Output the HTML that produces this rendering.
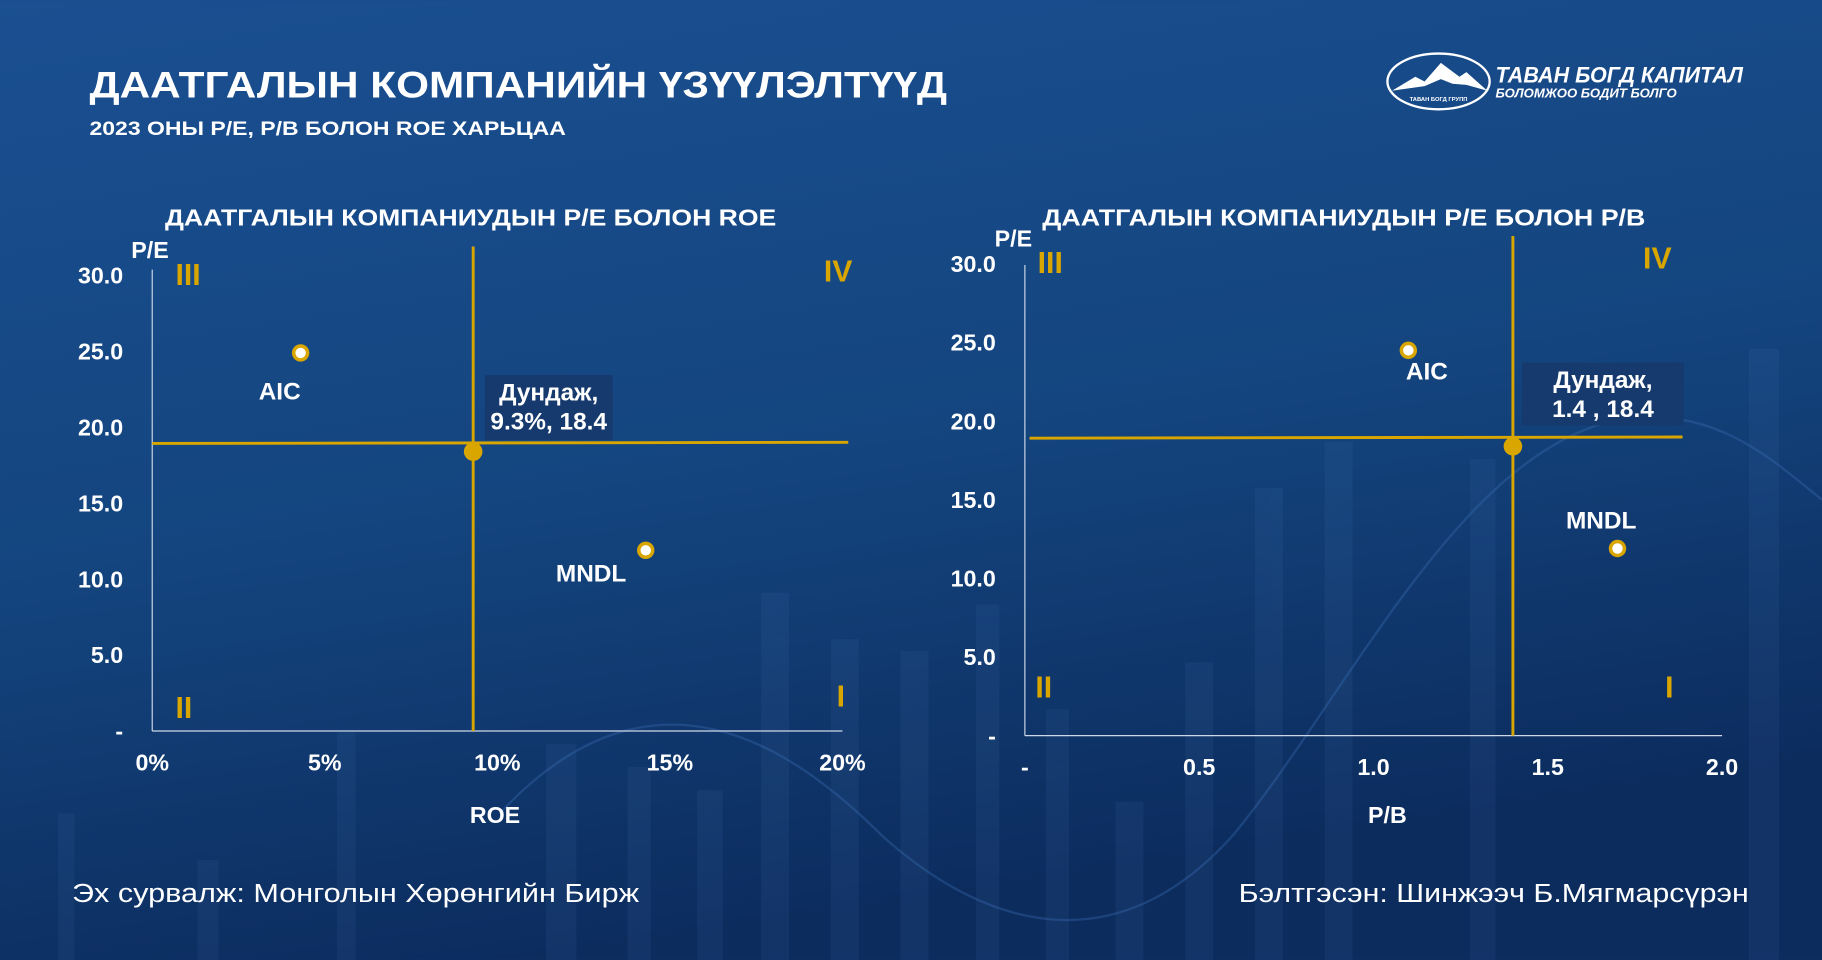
<!DOCTYPE html>
<html><head><meta charset="utf-8"><style>
html,body{margin:0;padding:0;width:1822px;height:960px;overflow:hidden;background:#123d78}
svg{display:block}
text{font-family:"Liberation Sans","DejaVu Sans",sans-serif;fill:#fff}
.b{font-weight:bold}
</style></head><body>
<svg id="s" width="1822" height="960" viewBox="0 0 1568 826" xmlns="http://www.w3.org/2000/svg">
<defs>
<linearGradient id="bg" x1="0" y1="0" x2="0.3" y2="1">
<stop offset="0" stop-color="#1a4f91"/><stop offset="0.55" stop-color="#14457f"/><stop offset="1" stop-color="#0c2c5e"/>
</linearGradient>
</defs>
<rect width="1568" height="826" fill="url(#bg)"/>
<g id="deco" opacity="0.07" fill="#6fa0e0"></g>
<path d="M430 700 C560 560 680 640 760 720 C850 800 960 830 1060 720 C1160 600 1260 380 1400 360 C1480 350 1530 400 1568 430" fill="none" stroke="#3c6fb4" stroke-width="2" opacity="0.35"/>

<text x="77" y="84" class="b" font-size="32" textLength="738" lengthAdjust="spacingAndGlyphs">ДААТГАЛЫН КОМПАНИЙН ҮЗҮҮЛЭЛТҮҮД</text>
<text x="77" y="116" class="b" font-size="17" textLength="410" lengthAdjust="spacingAndGlyphs">2023 ОНЫ P/E, P/B БОЛОН ROE ХАРЬЦАА</text>

<g>
<ellipse cx="1238" cy="70" rx="44" ry="24" fill="none" stroke="#fff" stroke-width="2"/>
<path d="M1198 78 L1218 66 L1226 70 L1240 54 L1256 66 L1262 62 L1280 78 L1262 73 L1250 72 L1240 68 L1226 74 Z" fill="#fff"/>
<text x="1238" y="87" font-size="5" text-anchor="middle" class="b">ТАВАН БОГД ГРУПП</text>
<text x="1287" y="71" class="b" font-size="19" font-style="italic" textLength="213" lengthAdjust="spacingAndGlyphs">ТАВАН БОГД КАПИТАЛ</text>
<text x="1287" y="84" class="b" font-size="11" font-style="italic" textLength="156" lengthAdjust="spacingAndGlyphs">БОЛОМЖОО БОДИТ БОЛГО</text>
</g>

<text x="142" y="194" class="b" font-size="20" textLength="526" lengthAdjust="spacingAndGlyphs">ДААТГАЛЫН КОМПАНИУДЫН P/E БОЛОН ROE</text>
<text x="897" y="194" class="b" font-size="20" textLength="519" lengthAdjust="spacingAndGlyphs">ДААТГАЛЫН КОМПАНИУДЫН P/E БОЛОН P/B</text>

<g id="left"></g>
<g id="right"></g>

<text x="62" y="776" font-size="22" textLength="488" lengthAdjust="spacingAndGlyphs">Эх сурвалж: Монголын Хөрөнгийн Бирж</text>
<text x="1066" y="776" font-size="22" textLength="439" lengthAdjust="spacingAndGlyphs">Бэлтгэсэн: Шинжээч Б.Мягмарсүрэн</text>
</svg>
<script>
const NS="http://www.w3.org/2000/svg";
const GOLD="#d9a600";
// Left chart data
const roeNames=["AIC","MNDL"];
const roeX=[4.3,14.3];
const roeY=[24.9,11.9];
const roeAvg=[9.3,18.4];
const roeXTicks=[0,5,10,15,20];
const roeXTickLabels=["0%","5%","10%","15%","20%"];
const peTicks=[0,5,10,15,20,25,30];
const peTickLabels=["-","5.0","10.0","15.0","20.0","25.0","30.0"];
// Right chart data
const pbNames=["AIC","MNDL"];
const pbX=[1.1,1.7];
const pbY=[24.5,11.9];
const pbAvg=[1.4,18.4];
const pbXTicks=[0,0.5,1,1.5,2];
const pbXTickLabels=["-","0.5","1.0","1.5","2.0"];
const avgLabelLeft=["Дундаж,","9.3%, 18.4"];
const avgLabelRight=["Дундаж,","1.4 ,  18.4"];

function el(p,tag,attrs,txt){const e=document.createElementNS(NS,tag);for(const k in attrs)e.setAttribute(k,attrs[k]);if(txt!==undefined)e.textContent=txt;p.appendChild(e);return e;}

const deco=document.getElementById('deco');
[[50,700,14,126],[170,740,18,86],[290,630,16,196],[470,640,26,186],[540,660,20,166],[600,680,22,146],[655,510,24,316],[715,550,24,276],[775,560,24,266],[840,520,20,306],[900,610,20,216],[960,690,24,136],[1020,570,24,256],[1080,420,24,406],[1140,380,24,446],[1265,395,22,431],[1505,300,26,526]].forEach(b=>{el(deco,'rect',{x:b[0],y:b[1],width:b[2],height:b[3]});});

function chart(g,o){
  const sx=v=>o.x0+(v-o.xmin)/(o.xmax-o.xmin)*(o.x1-o.x0);
  const sy=v=>o.y0-(v/30)*(o.y0-o.y1);
  let e;
  e=el(g,'line',{x1:o.x0,y1:o.y0,x2:o.x0,y2:o.axTop,stroke:"#cfd8e8","stroke-width":1});
  
  e=el(g,'line',{x1:o.x0,y1:o.y0,x2:o.x1,y2:o.y0,stroke:"#cfd8e8","stroke-width":1});
  
  peTicks.forEach((t,i)=>{const tx=el(g,'text',{x:o.ylx,y:sy(t)+7,"text-anchor":"end","font-size":20,class:"b"},peTickLabels[i]);
    });
  o.xt.forEach((t,i)=>{const tx=el(g,'text',{x:sx(t),y:o.xly,"text-anchor":"middle","font-size":20,class:"b"},o.xtl[i]);
    });
  e=el(g,'text',{x:o.yTitle[0],y:o.yTitle[1],"font-size":20,class:"b"},"P/E");
  
  e=el(g,'text',{x:o.xTitle[0],y:o.xTitle[1],"font-size":20,class:"b","text-anchor":"middle"},o.xName);
  
  o.quads.forEach(q=>{const tx=el(g,'text',{x:q[1],y:q[2],"font-size":26,class:"b",style:"fill:"+GOLD},q[0]);
    });
  const ax=sx(o.avg[0]),ay=sy(o.avg[1]);
  e=el(g,'line',{x1:ax,y1:o.vTop,x2:ax,y2:o.y0,stroke:GOLD,"stroke-width":2.5});
  
  e=el(g,'line',{x1:o.hL,y1:ay-7,x2:o.hR,y2:ay-8,stroke:GOLD,"stroke-width":2.5});
  
  e=el(g,'rect',{x:ax+o.box[0],y:ay+o.box[1],width:o.box[2],height:o.box[3],fill:"#163a6e"});
  
  o.avgLbl.forEach((s,i)=>{const tx=el(g,'text',{x:ax+o.box[0]+o.box[2]/2,y:ay+o.box[1]+22+i*25,"font-size":21,class:"b","text-anchor":"middle"},s);
    });
  e=el(g,'circle',{cx:ax,cy:ay,r:8,fill:GOLD});
  
  o.xs.forEach((v,i)=>{const px=sx(v),py=sy(o.ys[i]);
    const c=el(g,'circle',{cx:px,cy:py,r:6,fill:"#fff",stroke:GOLD,"stroke-width":3});
    
    
    const tx=el(g,'text',{x:px+o.lbl[i][0],y:py+o.lbl[i][1],"font-size":21,class:"b","text-anchor":"middle"},o.names[i]);
    
    });
}
chart(document.getElementById('left'),{x0:131,x1:725,xmin:0,xmax:20,y0:629,y1:237,axTop:232,ylx:106,xly:663,
  xt:roeXTicks,xtl:roeXTickLabels,yTitle:[113,222],xTitle:[426,708],xName:"ROE",
  quads:[["III",151,245],["IV",709,242],["II",151,618],["I",720,608]],
  avg:roeAvg,vTop:212,hL:131,hR:730,box:[10,-66,110,56],avgLbl:avgLabelLeft,
  xs:roeX,ys:roeY,names:roeNames,lbl:[[-18,40],[-47,27]]});
chart(document.getElementById('right'),{x0:882,x1:1482,xmin:0,xmax:2,y0:633,y1:227,axTop:228,ylx:857,xly:667,
  xt:pbXTicks,xtl:pbXTickLabels,yTitle:[856,212],xTitle:[1194,708],xName:"P/B",
  quads:[["III",893,235],["IV",1414,231],["II",891,600],["I",1433,600]],
  avg:pbAvg,vTop:203,hL:886,hR:1448,box:[8,-72,139,54],avgLbl:avgLabelRight,
  xs:pbX,ys:pbY,names:pbNames,lbl:[[16,25],[-14,-17]]});
</script>
</body></html>
